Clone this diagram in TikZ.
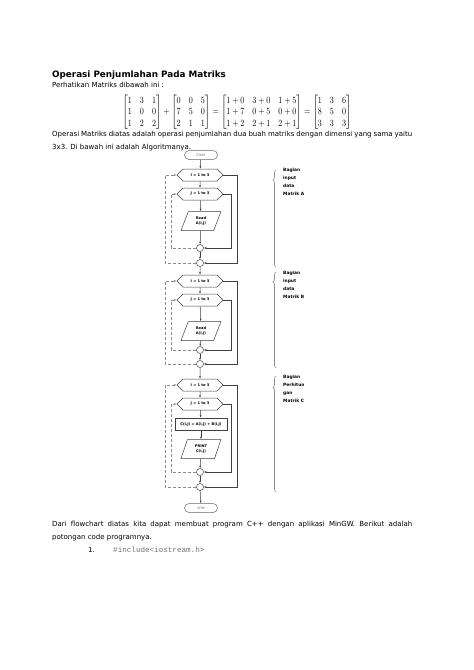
\documentclass[tikz,border=0pt]{standalone}
\usepackage{amsmath}
\usepackage{graphicx}
\usepackage{fontspec}
\setmainfont{DejaVu Sans}
\newfontfamily\codefont{Liberation Mono}
\usetikzlibrary{arrows.meta,shapes.geometric,shapes.misc,shapes.symbols,decorations.pathreplacing}

\tikzset{
  link/.style={draw=black!75, line width=0.5pt},
  flow/.style={link, -{Latex[length=2.5pt,width=2pt]}},
  back/.style={draw=black!45, line width=0.5pt, dash pattern=on 3pt off 2pt, -{Latex[length=2.5pt,width=2pt]}},
  termbox/.style={draw=black!60, line width=0.5pt, rounded rectangle, minimum width=33pt, minimum height=9pt, inner sep=0pt, font=\fontsize{3}{4}\selectfont, text=black!60},
  loopbox/.style={draw=black!75, line width=0.5pt, signal, signal to=east and west, minimum width=46pt, minimum height=12pt, inner sep=0pt, font=\fontsize{3.6}{4.4}\selectfont\bfseries},
  iobox/.style={draw=black!75, line width=0.5pt, trapezium, trapezium left angle=70, trapezium right angle=110, trapezium stretches=true, minimum width=40pt, minimum height=19pt, inner sep=0pt, align=center, font=\fontsize{3.6}{4.6}\selectfont\bfseries},
  procbox/.style={draw=black!75, line width=0.5pt, rectangle, minimum width=52pt, minimum height=12pt, inner sep=0pt, font=\fontsize{3.6}{4.4}\selectfont\bfseries},
  joint/.style={draw=black!75, line width=0.5pt, circle, minimum size=7pt, inner sep=0pt},
  txt/.style={anchor=base west, inner sep=0pt, font=\fontsize{7}{8}\selectfont},
  bracelbl/.style={anchor=north west, inner sep=0pt, align=left, font=\fontsize{4.4}{8}\selectfont\bfseries},
  curly/.style={draw=black!45, line width=0.6pt, decorate, decoration={brace, amplitude=3pt, aspect=0.9}}
}

\begin{document}
\begin{tikzpicture}[x=1pt, y=-1pt]
  \fill[white] (0,0) rectangle (474,670);
  \useasboundingbox (0,0) rectangle (474,670);

  %%%%% TEXT %%%%%
  \node[txt, font=\fontsize{8.8}{11}\selectfont\bfseries] (title) at (52,77) {Operasi Penjumlahan Pada Matriks};
  \node[txt] (intro) at (52,87) {Perhatikan Matriks dibawah ini :};
  \node[inner sep=0pt] (matrices) at (237,112.5) {\resizebox*{229pt}{34pt}{$\begin{bmatrix}1&3&1\\1&0&0\\1&2&2\end{bmatrix}+\begin{bmatrix}0&0&5\\7&5&0\\2&1&1\end{bmatrix}=\begin{bmatrix}1+0&3+0&1+5\\1+7&0+5&0+0\\1+2&2+1&2+1\end{bmatrix}=\begin{bmatrix}1&3&6\\8&5&0\\3&3&3\end{bmatrix}$}};
  \node[txt] (para1) at (52,136) {\makebox[360pt][s]{Operasi Matriks diatas adalah operasi penjumlahan dua buah matriks dengan dimensi yang sama yaitu}};
  \node[txt] (para2) at (52,149) {3x3. Di bawah ini adalah Algoritmanya.};

  %%%%% FLOWCHART %%%%%
  \coordinate (rin) at (231,0);
  \coordinate (rout) at (237,0);
  \coordinate (lin) at (171,0);
  \coordinate (lout) at (165,0);

  \node[termbox] (start) at (201,155) {START};

  % matrik A
  \node[loopbox] (iA) at (200,175) {I = 1 to 3};
  \node[loopbox] (jA) at (200,194) {J = 1 to 3};
  \node[iobox] (readA) at (201,221) {Read\\A(I,J)};
  \node[joint] (cjA) at (200,248) {};
  \node[joint] (ciA) at (200,263) {};

  % matrik B
  \node[loopbox] (iB) at (200,281) {I = 1 to 3};
  \node[loopbox] (jB) at (200,300) {J = 1 to 3};
  \node[iobox] (readB) at (201,331) {Read\\A(I,J)};
  \node[joint] (cjB) at (200,350) {};
  \node[joint] (ciB) at (200,364) {};

  % matrik C
  \node[loopbox] (iC) at (200,385) {I = 1 to 3};
  \node[loopbox] (jC) at (200,404) {J = 1 to 3};
  \node[procbox] (sumC) at (201,424) {C(I,J) = A(I,J) + B(I,J)};
  \node[iobox] (printC) at (201,449) {PRINT\\C(I,J)};
  \node[joint] (cjC) at (200,472) {};
  \node[joint] (ciC) at (200,487) {};

  \node[termbox] (stop) at (201,508) {STOP};

  % main line
  \draw[flow] (start) -- (iA);
  \draw[flow] (iA) -- (jA);
  \draw[flow] (jA) -- (readA);
  \draw[flow] (readA) -- (cjA);
  \draw[flow] (cjA) -- (ciA);
  \draw[flow] (ciA) -- (iB);
  \draw[flow] (iB) -- (jB);
  \draw[flow] (jB) -- (readB);
  \draw[flow] (readB) -- (cjB);
  \draw[flow] (cjB) -- (ciB);
  \draw[flow] (ciB) -- (iC);
  \draw[flow] (iC) -- (jC);
  \draw[flow] (jC) -- (sumC);
  \draw[flow] (sumC) -- (printC);
  \draw[flow] (printC) -- (cjC);
  \draw[flow] (cjC) -- (ciC);
  \draw[flow] (ciC) -- (stop);

  % loop exits
  \draw[flow] (jA.east) -- (jA.east -| rin) |- (cjA.east);
  \draw[flow] (iA.east) -- (iA.east -| rout) |- (ciA.east);
  \draw[flow] (jB.east) -- (jB.east -| rin) |- (cjB.east);
  \draw[flow] (iB.east) -- (iB.east -| rout) |- (ciB.east);
  \draw[flow] (jC.east) -- (jC.east -| rin) |- (cjC.east);
  \draw[flow] (iC.east) -- (iC.east -| rout) |- (ciC.east);

  % loop returns
  \draw[back] (cjA.west) -- (cjA.west -| lin) |- (jA.west);
  \draw[back] (ciA.west) -- (ciA.west -| lout) |- (iA.west);
  \draw[back] (cjB.west) -- (cjB.west -| lin) |- (jB.west);
  \draw[back] (ciB.west) -- (ciB.west -| lout) |- (iB.west);
  \draw[back] (cjC.west) -- (cjC.west -| lin) |- (jC.west);
  \draw[back] (ciC.west) -- (ciC.west -| lout) |- (iC.west);

  % braces
  \draw[curly] (276,267) -- (276,170);
  \draw[curly] (276,368) -- (276,272);
  \draw[curly] (276,492) -- (276,376);
  \node[bracelbl] (lblA) at (283,168) {Bagian\\input\\data\\Matrik A};
  \node[bracelbl] (lblB) at (283,271) {Bagian\\input\\data\\Matrik B};
  \node[bracelbl] (lblC) at (283,375) {Bagian\\Perhitun\\gan\\Matrik C};

  %%%%% TEXT %%%%%
  \node[txt] (para3) at (52,526) {\makebox[360pt][s]{Dari flowchart diatas kita dapat membuat program C++ dengan aplikasi MinGW. Berikut adalah}};
  \node[txt] (para4) at (52,539) {potongan code programnya.};
  \node[txt] (num) at (88,552) {1.};
  \node[txt, font=\fontsize{7.6}{9}\codefont, text=black!55] (code) at (113,552) {\#include<iostream.h>};
\end{tikzpicture}
\end{document}
